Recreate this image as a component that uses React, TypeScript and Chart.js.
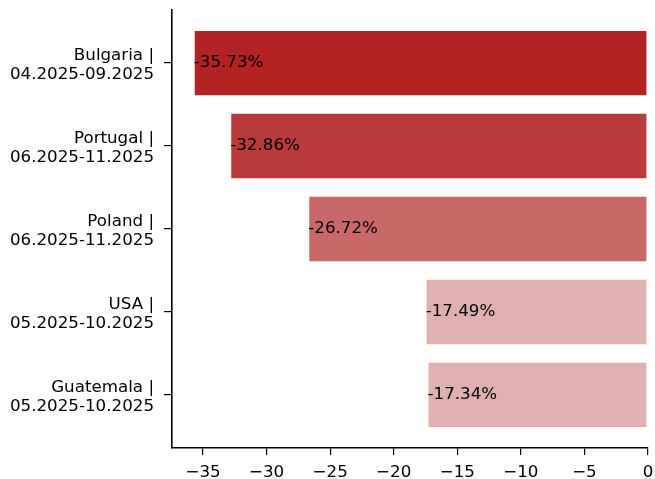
import React, { useEffect, useRef } from "react";
import { Chart, registerables } from "chart.js";

Chart.register(...registerables);

const countries = ["Bulgaria", "Portugal", "Poland", "USA", "Guatemala"];
const periods = ["04.2025-09.2025", "06.2025-11.2025", "06.2025-11.2025", "05.2025-10.2025", "05.2025-10.2025"];
const changes = [-35.73, -32.86, -26.72, -17.49, -17.34];
const barColors = ["#b22222", "#b93a3a", "#c86868", "#dfb0b0", "#dfb0b0"];
const xTicks = [-35, -30, -25, -20, -15, -10, -5, 0];

const FONT = "'DejaVu Sans', sans-serif";
const FONT_SIZE = 16.7;

const valueLabels = {
  id: "valueLabels",
  afterDatasetsDraw(chart: any) {
    const ctx = chart.ctx;
    const meta = chart.getDatasetMeta(0);
    ctx.save();
    ctx.font = `${FONT_SIZE}px ${FONT}`;
    ctx.fillStyle = "#000";
    ctx.textAlign = "left";
    ctx.textBaseline = "middle";
    meta.data.forEach((bar: any, i: number) => {
      ctx.fillText(`${changes[i].toFixed(2)}%`, bar.x, bar.y);
    });
    ctx.restore();
  },
};

export default function App() {
  const ref = useRef<HTMLCanvasElement | null>(null);
  useEffect(() => {
    document.body.style.margin = "0";
    const chart = new Chart(ref.current as HTMLCanvasElement, {
      type: "bar",
      data: {
        datasets: [
          {
            data: changes.map((v, i) => ({ x: v, y: i })),
            backgroundColor: barColors,
            borderColor: "rgba(255,255,255,0.35)",
            borderWidth: 1,
            borderSkipped: false,
            categoryPercentage: 0.8,
            barPercentage: 1,
          },
        ],
      },
      options: {
        indexAxis: "y",
        animation: false,
        responsive: false,
        layout: { padding: { top: 10, right: 7, left: 0, bottom: 0 } },
        plugins: { legend: { display: false }, tooltip: { enabled: false } },
        scales: {
          x: {
            type: "linear",
            min: -37.44,
            max: 0,
            offset: false,
            afterBuildTicks: (s: any) => {
              s.ticks = xTicks.map((v) => ({ value: v }));
            },
            afterFit: (s: any) => {
              s.height = 31;
              s.paddingLeft = 0;
              s.paddingRight = 0;
            },
            grid: { offset: false, drawOnChartArea: false, drawTicks: true, tickLength: 7, color: "#000", lineWidth: 1.2 },
            border: { display: true, color: "#000", width: 1.6 },
            ticks: {
              color: "#000",
              font: { family: FONT, size: FONT_SIZE },
              padding: 8,
              maxRotation: 0,
              callback: (v: any) => (Number(v) < 0 ? "\u2212" + Math.abs(Number(v)) : String(v)),
            },
          },
          y: {
            type: "linear",
            reverse: true,
            min: -0.64,
            max: 4.64,
            offset: false,
            afterBuildTicks: (s: any) => {
              s.ticks = countries.map((_, i) => ({ value: i }));
            },
            afterFit: (s: any) => {
              s.width = 172;
              s.paddingTop = 0;
              s.paddingBottom = 0;
            },
            grid: { offset: false, drawOnChartArea: false, drawTicks: true, tickLength: 8, color: "#000", lineWidth: 1.2 },
            border: { display: true, color: "#000", width: 1.6 },
            ticks: {
              color: "#000",
              font: { family: FONT, size: FONT_SIZE, lineHeight: 1.16 },
              padding: 10,
              labelOffset: 2,
              autoSkip: false,
              callback: (v: any) => {
                const i = Math.round(Number(v));
                return [countries[i] + " |", periods[i]];
              },
            },
          },
        },
      },
      plugins: [valueLabels],
    } as any);
    return () => chart.destroy();
  }, []);
  return (
    <div style={{ width: 655, height: 479 }}>
      <canvas ref={ref} width={655} height={479} style={{ display: "block" }} />
    </div>
  );
}
